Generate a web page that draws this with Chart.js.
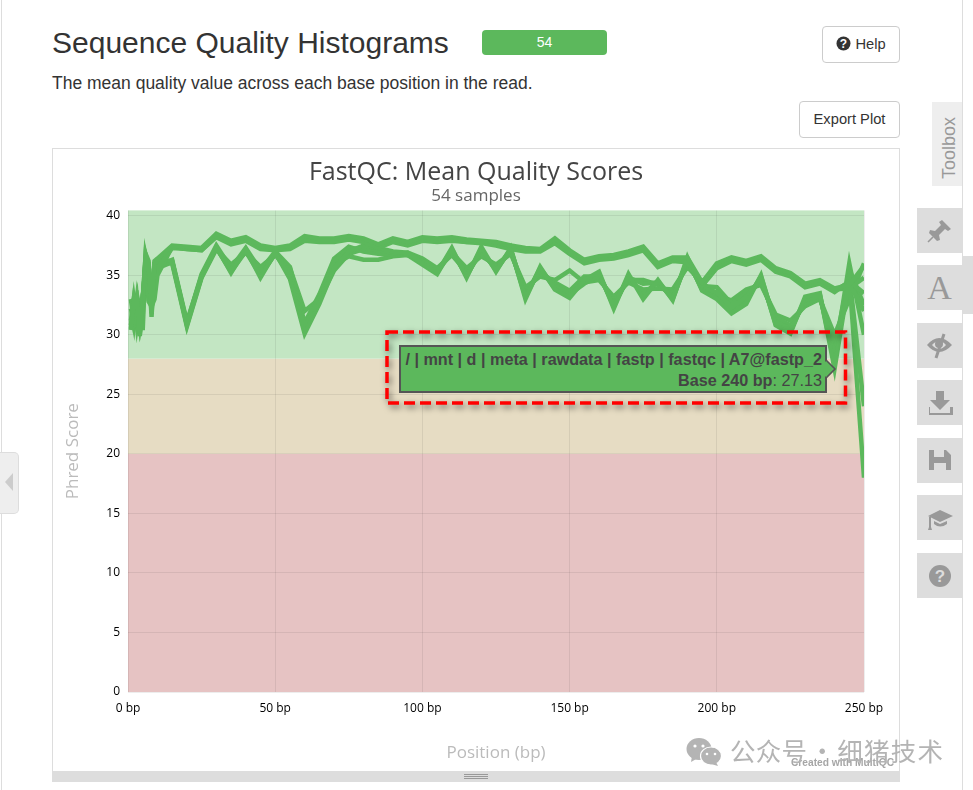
<!DOCTYPE html>
<html>
<head>
<meta charset="utf-8">
<title>Sequence Quality Histograms</title>
<script src="https://cdn.jsdelivr.net/npm/chart.js@4/dist/chart.umd.min.js"></script>
<style>
  html, body { margin: 0; padding: 0; background: #fff; width: 973px; height: 790px; overflow: hidden; }
  body { position: relative; font-family: "Liberation Sans", Arial, sans-serif; color: #333; }
  .abs { position: absolute; }
  .line { background: #ddd; }
  h1 { position: absolute; left: 52px; top: 25px; margin: 0; font-size: 30px; line-height: 36px; font-weight: 400; white-space: nowrap; }
  .badge { left: 482px; top: 30px; width: 125px; height: 25px; background: #5cb85c; border-radius: 4px; color: #fff; font-size: 14px; line-height: 25px; text-align: center; }
  .desc { left: 52px; top: 72px; font-size: 17.5px; line-height: 22px; white-space: nowrap; }
  .btn { border: 1px solid #ccc; border-radius: 4px; box-sizing: border-box; font-size: 14.7px; text-align: center; background: #fff; }
  #box { left: 52px; top: 148px; width: 848px; height: 634px; border: 1px solid #ddd; box-sizing: border-box; }
  #chartWrap { left: 53px; top: 149px; width: 846px; height: 622px; }
  .grip { left: 52px; top: 771px; width: 848px; height: 11px; background: #ddd; }
  .grip i { position: absolute; left: 412px; width: 24px; height: 1px; background: #999; }
  .tool { left: 917px; width: 45px; height: 45px; background: #ddd; }
  .tool svg { position: absolute; left: 0; top: 0; }
  #tip { left: 399px; top: 345px; width: 428px; height: 48px; box-sizing: border-box; background: #5cb85c; border: 2px solid #555; color: #444; font-size: 16.2px; line-height: 21px; text-align: right; padding: 2px 3px 0 0; white-space: nowrap; }
  #redBox { left: 380px; top: 325px; filter: drop-shadow(2px 3px 3px rgba(0,0,0,.55)); }
  .mark { left: 730px; top: 732px; font-family: "Noto Sans CJK SC"; font-size: 25.5px; line-height: 36px; color: #b4b4b4; white-space: nowrap; letter-spacing: .3px; }
  .made { right: 79px; top: 757px; font-size: 10.2px; line-height: 12px; color: #a6a6a6; font-weight: 700; white-space: nowrap; }
</style>
</head>
<body>
<div class="abs line" style="left:1px;top:0;width:1px;height:452px"></div>
<div class="abs line" style="left:1px;top:514px;width:1px;height:276px"></div>
<div class="abs line" style="left:962px;top:0;width:1px;height:790px"></div>

<div class="abs" style="left:0;top:452px;width:19px;height:62px;background:#eee;border:1px solid #ddd;border-left:0;border-radius:0 5px 5px 0;box-sizing:border-box">
  <svg width="18" height="60"><polygon points="5,29 13,20 13,38" fill="#ccc"/></svg>
</div>

<h1>Sequence Quality Histograms</h1>
<div class="abs badge">54</div>
<div class="abs desc">The mean quality value across each base position in the read.</div>

<div class="abs btn" style="left:822px;top:26px;width:78px;height:37px;line-height:35px">
  <svg width="15" height="15" style="vertical-align:-2px"><circle cx="7.5" cy="7.5" r="7" fill="#333"/><text x="7.5" y="12" font-size="12" font-weight="700" text-anchor="middle" fill="#fff" font-family="Liberation Sans">?</text></svg> Help
</div>
<div class="abs btn" style="left:799px;top:101px;width:101px;height:37px;line-height:35px">Export Plot</div>

<div class="abs" id="box"></div>
<div class="abs" id="chartWrap"><canvas id="qualityChart" width="846" height="622"></canvas></div>
<div class="abs grip"><i style="top:3px"></i><i style="top:5px"></i><i style="top:7px"></i></div>

<svg class="abs" id="redBox" width="480" height="92"><rect x="7" y="7" width="458.5" height="71" fill="none" stroke="#f00" stroke-width="3.5" stroke-dasharray="11 5"/></svg>
<div class="abs" id="tip"><b>/ | mnt | d | meta | rawdata | fastp | fastqc | A7@fastp_2</b><br><b>Base 240 bp</b>: 27.13</div>
<svg class="abs" style="left:825px;top:358px" width="14" height="22"><polygon points="1,2 10,11 1,20" fill="#5cb85c" stroke="#555" stroke-width="1.6"/><rect x="0" y="3.5" width="2" height="15" fill="#5cb85c"/></svg>

<!-- toolbox -->
<div class="abs" style="left:932px;top:102px;width:30px;height:84px;background:#eee"></div>
<div class="abs" style="left:949px;top:148px;transform:translate(-50%,-50%) rotate(-90deg);font-size:18px;color:#999;white-space:nowrap">Toolbox</div>
<div class="abs" style="left:962px;top:256px;width:11px;height:58px;background:#ddd"></div>

<div class="abs tool" style="top:208px"><svg width="45" height="45"><g fill="#999"><polygon points="25,12 34,21 31,23 28,21 22,27 23,32 20,33 12,25 13,22 18,23 24,17 22,14"/></g><line x1="16" y1="29" x2="11" y2="34" stroke="#999" stroke-width="1.6"/></svg></div>
<div class="abs tool" style="top:265px;text-align:center;font-family:'Liberation Serif';font-size:34px;line-height:45px;color:#999">A</div>
<div class="abs tool" style="top:323px"><svg width="45" height="45"><path d="M10 22 Q22 8 35 22 Q22 36 10 22 Z M15 22 Q22 30 29 22 Q22 14 15 22 Z" fill="#999" fill-rule="evenodd"/><circle cx="22" cy="21" r="4" fill="#999"/><line x1="27" y1="11" x2="19" y2="35" stroke="#999" stroke-width="3"/></svg></div>
<div class="abs tool" style="top:380px"><svg width="45" height="45"><polygon points="19,11 27,11 27,20 33,20 23,30 13,20 19,20" fill="#999"/><path d="M13 27 V33 H33 V27 H36 V35 H12 V27 Z" fill="#999"/></svg></div>
<div class="abs tool" style="top:438px"><svg width="45" height="45"><path d="M12 12 H29 L34 17 V32 H12 Z M17 12 V19 H27 V12 Z M17 25 V32 H29 V25 Z" fill="#999" fill-rule="evenodd"/></svg></div>
<div class="abs tool" style="top:495px"><svg width="45" height="45"><polygon points="23,15 36,21 23,27 11,21" fill="#999"/><path d="M17 26 L23 29 L30 26 V29 Q23 34 17 29 Z" fill="#999"/><rect x="12" y="22" width="2" height="10" fill="#999"/><polygon points="11,35 13,29 15,35" fill="#999"/></svg></div>
<div class="abs tool" style="top:553px"><svg width="45" height="45"><circle cx="23" cy="23" r="11" fill="#999"/><text x="23" y="29" font-size="17" font-weight="700" text-anchor="middle" fill="#ddd" font-family="Liberation Sans">?</text></svg></div>

<div class="abs made">Created with MultiQC</div>
<svg class="abs" style="left:686px;top:737px" width="37" height="30">
  <ellipse cx="13" cy="12" rx="12.5" ry="11" fill="#b4b4b4"/><polygon points="6,19 5,25 12,21" fill="#b4b4b4"/>
  <ellipse cx="25" cy="19" rx="10.5" ry="9" fill="#b4b4b4" stroke="#fff" stroke-width="1.2"/><polygon points="30,25 32,29 25,27" fill="#b4b4b4"/>
  <circle cx="9" cy="9" r="1.6" fill="#fff"/><circle cx="17" cy="9" r="1.6" fill="#fff"/>
  <circle cx="21" cy="17" r="1.3" fill="#fff"/><circle cx="29" cy="17" r="1.3" fill="#fff"/>
</svg>
<div class="abs mark">公众号<span style="margin:0 2px">·</span><span style="letter-spacing:1.3px">细猪技术</span></div>

<script>
var positions = [1,2,3,4,5,6,7,8,9,
  10,15,20,25,30,35,40,45,50,55,
  60,65,70,75,80,85,90,95,100,105,
  110,115,120,125,130,135,140,145,150,155,
  160,165,170,175,180,185,190,195,200,205,
  210,215,220,225,230,235,240,245,250];

// upper bundle of samples
var sampleA1 = [30.4,32.8,33.2,29.9,32.8,36.8,36.2,31.5,36.2,
  36.4,37.5,37.4,37.3,38.5,37.9,38.2,37.5,37.3,37.5,
  38.3,38.1,38.1,38.3,38.1,37.6,38.1,37.8,38.2,38.1,
  38.2,38.0,37.9,37.8,37.5,37.3,37.2,38.1,37.1,36.3,
  36.6,36.7,37.0,37.4,36.0,36.5,36.5,34.4,36.0,36.5,
  36.2,36.6,35.6,35.2,34.3,34.6,33.9,34.2,35.8];
var sampleA2 = [33.0,31.0,32.0,31.2,32.4,36.5,33.0,33.0,35.8,
  35.6,37.3,37.2,37.1,38.2,37.6,37.9,37.2,37.1,37.2,
  37.9,37.8,37.8,38.0,37.8,37.3,37.8,37.5,37.9,37.8,
  37.9,37.8,37.7,37.5,37.2,37.0,37.0,37.7,36.8,36.0,
  36.3,36.4,36.7,37.1,35.7,36.2,36.1,34.1,35.6,36.2,
  35.9,36.3,35.3,34.9,34.0,34.3,33.6,34.5,33.5];
var sampleA3 = [30.8,33.0,31.2,32.4,30.4,36.6,35.4,32.2,36.0,
  36.2,37.4,37.3,37.2,38.4,37.8,38.1,37.4,37.2,37.4,
  38.2,38.0,37.9,38.2,37.9,37.5,38.0,37.7,38.1,37.9,
  38.1,37.9,37.8,37.7,37.4,37.2,37.1,37.9,37.0,36.2,
  36.5,36.6,36.9,37.3,35.9,36.4,36.3,34.3,35.8,36.4,
  36.1,36.5,35.5,35.1,34.2,34.5,33.8,33.9,34.8];
var sampleA4 = [32.6,33.0,30.8,32.6,32.6,36.4,32.8,32.4,33.0,
  35.0,37.4,37.2,37.1,38.3,37.7,38.0,37.3,37.2,37.3,
  38.0,37.9,38.0,38.1,38.0,37.4,37.9,37.6,38.0,38.0,
  38.0,37.8,37.8,37.6,37.3,37.1,37.1,37.8,36.9,36.1,
  36.4,36.5,36.8,37.2,35.8,36.3,36.2,34.2,35.7,36.3,
  36.0,36.4,35.4,35.0,34.1,34.4,33.7,34.4,32.0];

// lower bundle, dips at 20 and 60 bp
var sampleB1 = [30.6,31.8,33.1,30.2,33.0,36.7,35.8,32.0,36.0,
  36.3,36.2,30.8,34.9,37.4,35.2,37.2,34.8,36.9,34.7,
  30.1,32.6,35.6,37.0,37.5,37.3,37.0,36.9,36.0,35.2,
  37.3,34.8,37.4,35.3,37.3,33.0,35.7,33.8,33.1,34.6,
  35.3,32.2,35.1,33.0,34.6,32.9,36.5,33.7,33.0,31.8,
  32.6,35.0,30.8,30.1,33.2,33.5,27.13,34.8,18.0];
var sampleB2 = [33.0,32.4,31.4,31.8,31.6,36.2,33.6,32.8,34.8,
  35.6,36.1,30.9,35.0,37.3,35.4,37.1,35.1,36.8,35.2,
  30.6,33.2,36.2,37.2,37.3,37.1,36.9,36.8,36.2,35.4,
  37.0,35.0,37.0,35.5,37.1,33.3,35.5,34.1,33.4,34.3,
  35.0,32.5,34.8,34.3,34.4,33.1,36.2,33.9,33.6,32.3,
  33.2,34.7,31.1,30.5,32.9,33.3,28.1,36.0,30.0];
var sampleB3 = [31.2,33.1,32.2,30.6,32.2,36.0,34.8,32.6,35.6,
  36.0,36.2,31.0,35.1,37.5,35.6,37.3,35.4,37.0,35.7,
  31.0,33.4,36.4,37.4,37.0,36.8,36.7,36.9,36.4,35.6,
  36.7,35.3,36.8,35.7,37.0,33.6,35.2,34.4,33.7,34.9,
  34.9,32.8,34.6,34.6,34.2,33.4,36.0,34.1,34.0,32.6,
  33.5,34.4,31.4,30.8,32.6,33.1,29.0,35.0,24.0];
var sampleB4 = [32.2,30.8,33.0,31.0,33.2,35.8,35.2,33.2,34.0,
  36.1,36.0,30.7,34.8,37.2,35.9,36.9,35.7,36.7,35.6,
  32.0,33.0,35.9,36.6,36.3,36.3,36.6,36.7,36.1,35.3,
  36.9,35.6,36.6,35.9,36.8,34.0,34.9,34.6,35.4,34.4,
  34.6,33.2,34.4,33.8,33.9,33.8,35.7,34.4,33.3,32.9,
  33.8,34.2,31.7,31.2,32.4,33.0,30.0,33.0,36.0];
var sampleB5 = [30.5,32.2,32.6,30.0,32.6,36.3,36.0,31.8,35.4,
  35.8,36.3,31.1,34.9,37.3,35.3,37.0,35.0,36.8,35.0,
  30.3,32.9,35.4,36.8,37.2,37.0,36.9,36.7,35.9,35.1,
  37.2,34.9,37.2,35.4,37.2,33.2,35.6,33.9,33.3,34.5,
  35.1,32.4,34.9,33.4,34.5,33.0,36.3,33.8,33.4,32.1,
  32.9,34.9,30.9,30.3,33.0,33.4,27.6,35.5,32.5];

var samples = [sampleA1, sampleA2, sampleA3, sampleA4, sampleB1, sampleB2, sampleB3, sampleB4, sampleB5];

var xTicks = [0, 50, 100, 150, 200, 250];
var yTicks = [0, 5, 10, 15, 20, 25, 30, 35, 40];

// quality zones on the phred axis
var zoneFrom = [0, 20, 28];
var zoneTo = [20, 28, 40.45];
var zoneColors = ['#e6c3c3', '#e6dcc3', '#c3e6c3'];

var zonesPlugin = {
  id: 'zones',
  beforeDraw: function (chart) {
    var ctx = chart.ctx, y = chart.scales.y, area = chart.chartArea;
    zoneFrom.forEach(function (from, i) {
      var top = y.getPixelForValue(zoneTo[i]);
      var bottom = y.getPixelForValue(from);
      ctx.fillStyle = zoneColors[i];
      ctx.fillRect(area.left, top, area.right - area.left, bottom - top);
    });
  }
};

var font = '"Open Sans", sans-serif';

function asTicks(list) {
  return list.map(function (v) { return { value: v }; });
}

new Chart(document.getElementById('qualityChart'), {
  type: 'line',
  plugins: [zonesPlugin],
  data: {
    datasets: samples.map(function (values) {
      return {
        data: values.map(function (v, i) { return { x: positions[i], y: v }; }),
        borderColor: '#5cb85c',
        borderWidth: 4.5,
        pointRadius: 0,
        tension: 0,
        fill: false
      };
    })
  },
  options: {
    responsive: false,
    animation: false,
    devicePixelRatio: 1,
    layout: { padding: { left: 0, right: 0, top: 0, bottom: 8 } },
    plugins: {
      legend: { display: false },
      tooltip: { enabled: false },
      title: {
        display: true,
        text: 'FastQC: Mean Quality Scores',
        color: '#444',
        font: { family: font, size: 25, weight: '400', lineHeight: 1.08 },
        padding: { top: 10, bottom: 0 }
      },
      subtitle: {
        display: true,
        text: '54 samples',
        color: '#666',
        font: { family: font, size: 17, weight: '400', lineHeight: 1.2 },
        padding: { top: 0, bottom: 4 }
      }
    },
    scales: {
      x: {
        type: 'linear',
        min: 0,
        max: 250,
        afterFit: function (scale) { scale.height = 71; scale.paddingRight = 35; },
        afterBuildTicks: function (scale) { scale.ticks = asTicks(xTicks); },
        ticks: {
          color: '#000',
          maxRotation: 0,
          padding: 9,
          font: { family: font, size: 12 },
          callback: function (v) { return v + ' bp'; }
        },
        grid: { color: 'rgba(0,0,0,0.07)', drawTicks: false },
        border: { display: false },
        title: { display: true, text: 'Position (bp)', color: '#bbb', font: { family: font, size: 17 }, padding: { top: 0, bottom: 0 } }
      },
      y: {
        min: 0,
        max: 40.45,
        afterFit: function (scale) { scale.width = 75; },
        afterBuildTicks: function (scale) { scale.ticks = asTicks(yTicks); },
        ticks: {
          color: '#000',
          padding: 8,
          font: { family: font, size: 12 },
          callback: function (v) { return v; }
        },
        grid: { color: 'rgba(0,0,0,0.07)', drawTicks: false },
        border: { display: false },
        title: { display: true, text: 'Phred Score', color: '#bbb', font: { family: font, size: 17 }, padding: { top: 10, bottom: 0 } }
      }
    }
  }
});
</script>
</body>
</html>
